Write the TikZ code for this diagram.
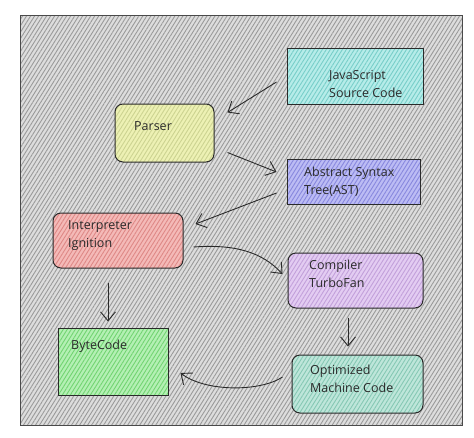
\documentclass[tikz,border=0pt]{standalone}
\usepackage{fontspec}
\setmainfont{Open Sans}
\usetikzlibrary{patterns.meta,arrows.meta,calc}
\definecolor{framebase}{HTML}{DDDDDD}
\definecolor{framelines}{HTML}{9A9A9A}
\definecolor{jsbase}{HTML}{B6ECE9}\definecolor{jslines}{HTML}{78CEC9}
\definecolor{pabase}{HTML}{EDF1B4}\definecolor{palines}{HTML}{CCD391}
\definecolor{astbase}{HTML}{BCBCF4}\definecolor{astlines}{HTML}{8888DE}
\definecolor{inbase}{HTML}{F4BAB8}\definecolor{inlines}{HTML}{DE8886}
\definecolor{cobase}{HTML}{E3CCF2}\definecolor{colines}{HTML}{C2A0DA}
\definecolor{bybase}{HTML}{B4F0B4}\definecolor{bylines}{HTML}{72D472}
\definecolor{opbase}{HTML}{BEE6DA}\definecolor{oplines}{HTML}{86C8B4}
\definecolor{ink}{HTML}{2A2A2A}
\tikzset{
  hatch/.style 2 args={preaction={fill=#1},pattern={Lines[angle=58,distance=3.4pt,line width=0.9pt]},pattern color=#2},
  box/.style={draw=ink,line width=1pt,inner sep=0pt},
  rbox/.style={box,rounded corners=8pt},
  lbl/.style={anchor=west,align=left,text=ink,font=\fontsize{12.5}{18}\selectfont,inner sep=0pt},
  arr/.style={draw=ink,line width=0.9pt,-{Straight Barb[length=9pt,width=15pt,line width=0.9pt]}}
}
\begin{document}
\begin{tikzpicture}[x=1pt,y=-1pt]
\useasboundingbox (0,0) rectangle (474,437);
\fill[white] (0,0) rectangle (474,437);
\draw[hatch={framebase}{framelines},draw=ink!85,line width=1pt] (20,15) rectangle (462,425);
% boxes
\node[box,hatch={jsbase}{jslines},minimum width=136pt,minimum height=56pt] (js) at (355,76) {};
\node[rbox,hatch={pabase}{palines},minimum width=99pt,minimum height=58pt] (pa) at (164.5,133) {};
\node[box,hatch={astbase}{astlines},minimum width=133pt,minimum height=45pt] (ast) at (353.5,181.5) {};
\node[rbox,hatch={inbase}{inlines},minimum width=130pt,minimum height=55pt] (in) at (118,240.5) {};
\node[rbox,hatch={cobase}{colines},minimum width=135pt,minimum height=55pt] (co) at (355.5,280.5) {};
\node[box,hatch={bybase}{bylines},minimum width=110pt,minimum height=67pt] (by) at (113,361.5) {};
\node[rbox,hatch={opbase}{oplines},minimum width=131pt,minimum height=58pt] (op) at (357.5,384) {};
% labels
\node[lbl] (jst) at (329,84) {JavaScript\\Source Code};
\node[lbl] (pat) at (134,126) {Parser};
\node[lbl] (astt) at (304,182) {Abstract Syntax\\Tree(AST)};
\node[lbl] (int) at (68,236) {Interpreter\\Ignition};
\node[lbl] (cot) at (309,273.5) {Compiler\\TurboFan};
\node[lbl] (byt) at (71,346) {ByteCode};
\node[lbl] (opt) at (310,379) {Optimized\\Machine Code};
% arrows
\draw[arr] ($(js.west)+(-10,6)$) -- ($(pa.north east)+(13,9)$);
\draw[arr] ($(pa.south east)+(13,-10)$) -- ($(ast.west)+(-10,-9.5)$);
\draw[arr] ($(ast.west)+(-10,11.5)$) -- ($(in.east)+(12,-16.5)$);
\draw[arr] ($(in.east)+(10,6.5)$) .. controls (235,244) and (262,252) .. ($(co.west)+(-5,-6.5)$);
\draw[arr] ($(in.south)+(-10,14)$) -- ($(by.north)+(-5,-6)$);
\draw[arr] ($(co.south)+(-7.5,9)$) -- ($(op.north)+(-9.5,-8)$);
\draw[arr] ($(op.west)+(-9,-7)$) .. controls (260,392) and (205,392) .. ($(by.east)+(12,11.5)$);
\end{tikzpicture}
\end{document}
